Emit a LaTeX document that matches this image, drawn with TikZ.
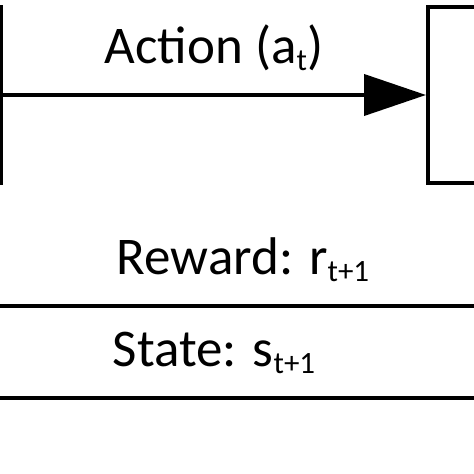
\documentclass[tikz,border=0pt]{standalone}
\usepackage{fontspec}
\setmainfont{Carlito}
\usetikzlibrary{arrows.meta}

\newcommand{\lowsub}[1]{\raisebox{-7pt}{\fontsize{31}{34}\selectfont #1}}

\begin{document}
\begin{tikzpicture}[x=1pt,y=1pt,
	blockbox/.style={draw,line width=4pt,minimum width=200pt,minimum height=176pt},
	flow/.style={line width=4pt},
	lbl/.style={anchor=base,font=\fontsize{53}{60}\selectfont}]
	\useasboundingbox (0,0) rectangle (474,474);
	\clip (0,0) rectangle (474,474);
	\node[blockbox] (agent) at (-99,379) {};
	\node[blockbox] (env) at (528,379) {};
	\draw[flow,-{Triangle[length=62pt,width=41pt]}] (agent.east) -- (env.west);
	\node[lbl] (action) at (214,410) {Action (a\lowsub{t})};
	\node[lbl] (reward) at (243,199) {Reward: r\lowsub{t+1}};
	\coordinate (rl) at (-5,168);
	\coordinate (rr) at (480,168);
	\draw[flow] (rl) -- (rr);
	\node[lbl] (state) at (214,107) {State: s\lowsub{t+1}};
	\coordinate (sl) at (-5,76);
	\coordinate (sr) at (480,76);
	\draw[flow] (sl) -- (sr);
\end{tikzpicture}
\end{document}
